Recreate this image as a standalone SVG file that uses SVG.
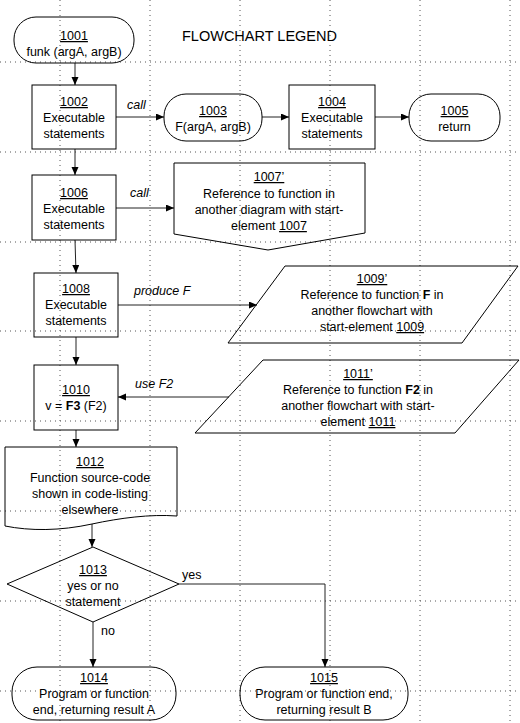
<svg xmlns="http://www.w3.org/2000/svg" width="520" height="723" viewBox="0 0 520 723">
<defs>
<style>
.s{fill:none;stroke:#000;stroke-width:1}
.t{font-family:"Liberation Sans",Arial,sans-serif;font-size:12.5px;fill:#000;text-anchor:middle}
.l{font-family:"Liberation Sans",Arial,sans-serif;font-size:12.5px;fill:#000}
.i{font-style:italic}
.u{text-decoration:underline}
.b{font-weight:bold}
.c{fill:none;stroke:#222;stroke-width:1}
.a{marker-end:url(#ah)}
.g{stroke:#555;stroke-width:1;stroke-dasharray:1 4;fill:none}
</style>
<marker id="ah" markerUnits="userSpaceOnUse" markerWidth="9" markerHeight="8" refX="8" refY="3.5" orient="auto">
<path d="M0,0 L8,3.5 L0,7 z" fill="#000"/>
</marker>
</defs>
<rect width="520" height="723" fill="#fff"/>
<g id="grid">
<path class="g" d="M60,0V723M150,0V723M240,0V723M330,0V723M420,0V723M510,0V723"/>
<path class="g" d="M0,62H520M0,152H520M0,242H520M0,331H520M0,421H520M0,511H520M0,601H520M0,691H520"/>
</g>
<text class="l" x="182" y="41" style="font-size:14.5px">FLOWCHART LEGEND</text>
<g id="connectors">
<path class="c a" d="M75,63V85"/>
<path class="c a" d="M116,117H164"/>
<path class="c a" d="M262,117H289"/>
<path class="c a" d="M375,117H409"/>
<path class="c a" d="M75,149V175"/>
<path class="c a" d="M116,208H174"/>
<path class="c a" d="M75,240L76,273"/>
<path class="c a" d="M118,305H257"/>
<path class="c a" d="M76,337V365"/>
<path class="c a" d="M229,397H118"/>
<path class="c a" d="M76,430V447"/>
<path class="c a" d="M92,524V547"/>
<path class="c a" d="M179,584H325V667"/>
<path class="c a" d="M93,622V667"/>
<text class="l i" x="127" y="109">call</text>
<text class="l i" x="130" y="197">call</text>
<text class="l i" x="134" y="295">produce F</text>
<text class="l i" x="135" y="388">use F2</text>
<text class="l" x="182" y="579">yes</text>
<text class="l" x="101" y="635">no</text>
</g>
<g id="n1001">
<rect class="s" x="14" y="17" width="120" height="46" rx="22" ry="22"/>
<text class="t" x="74" y="40"><tspan class="u">1001</tspan></text>
<text class="t" x="74" y="56">funk (argA, argB)</text>
</g>
<g id="n1002">
<rect class="s" x="32" y="85" width="84" height="64"/>
<text class="t" x="74" y="106"><tspan class="u">1002</tspan></text>
<text class="t" x="74" y="122">Executable</text>
<text class="t" x="74" y="138">statements</text>
</g>
<g id="n1003">
<rect class="s" x="164" y="94" width="98" height="47" rx="22" ry="22"/>
<text class="t" x="213" y="115"><tspan class="u">1003</tspan></text>
<text class="t" x="213" y="131">F(argA, argB)</text>
</g>
<g id="n1004">
<rect class="s" x="289" y="85" width="86" height="64"/>
<text class="t" x="332" y="106"><tspan class="u">1004</tspan></text>
<text class="t" x="332" y="122">Executable</text>
<text class="t" x="332" y="138">statements</text>
</g>
<g id="n1005">
<rect class="s" x="409" y="94" width="91" height="47" rx="22" ry="22"/>
<text class="t" x="454.5" y="115"><tspan class="u">1005</tspan></text>
<text class="t" x="454.5" y="131">return</text>
</g>
<g id="n1006">
<rect class="s" x="32" y="175" width="84" height="65"/>
<text class="t" x="74" y="197"><tspan class="u">1006</tspan></text>
<text class="t" x="74" y="213">Executable</text>
<text class="t" x="74" y="229">statements</text>
</g>
<g id="n1007">
<path class="s" d="M174,163H365V233L268,250L174,234Z"/>
<text class="t" x="269" y="181"><tspan class="u">1007’</tspan></text>
<text class="t" x="269" y="198">Reference to function in</text>
<text class="t" x="269" y="214">another diagram with start-</text>
<text class="t" x="269" y="230">element <tspan class="u">1007</tspan></text>
</g>
<g id="n1008">
<rect class="s" x="34" y="273" width="84" height="64"/>
<text class="t" x="76" y="293"><tspan class="u">1008</tspan></text>
<text class="t" x="76" y="309">Executable</text>
<text class="t" x="76" y="325">statements</text>
</g>
<g id="n1009">
<path class="s" d="M285,266H518L462,343H228Z"/>
<text class="t" x="372" y="283"><tspan class="u">1009’</tspan></text>
<text class="t" x="372" y="299">Reference to function <tspan class="b">F</tspan> in</text>
<text class="t" x="372" y="315">another flowchart with</text>
<text class="t" x="372" y="331">start-element <tspan class="u">1009</tspan></text>
</g>
<g id="n1010">
<rect class="s" x="34" y="365" width="84" height="65"/>
<text class="t" x="76" y="394"><tspan class="u">1010</tspan></text>
<text class="t" x="76" y="410">v = <tspan class="b">F3</tspan> (F2)</text>
</g>
<g id="n1011">
<path class="s" d="M263,360H519L455,433H195Z"/>
<text class="t" x="358" y="378"><tspan class="u">1011’</tspan></text>
<text class="t" x="358" y="394">Reference to function <tspan class="b">F2</tspan> in</text>
<text class="t" x="358" y="410">another flowchart with start-</text>
<text class="t" x="358" y="426">element <tspan class="u">1011</tspan></text>
</g>
<g id="n1012">
<path class="s" d="M5,447H177V516C150,514 120,518 92,524C60,531 30,531 5,526Z"/>
<text class="t" x="90" y="466"><tspan class="u">1012</tspan></text>
<text class="t" x="90" y="482">Function source-code</text>
<text class="t" x="90" y="498">shown in code-listing</text>
<text class="t" x="90" y="514">elsewhere</text>
</g>
<g id="n1013">
<path class="s" d="M93,547L179,584L93,622L7,584Z"/>
<text class="t" x="93" y="574"><tspan class="u">1013</tspan></text>
<text class="t" x="93" y="590">yes or no</text>
<text class="t" x="93" y="606">statement</text>
</g>
<g id="n1014">
<rect class="s" x="12" y="667" width="164" height="53" rx="25" ry="25"/>
<text class="t" x="94" y="682"><tspan class="u">1014</tspan></text>
<text class="t" x="94" y="698">Program or function</text>
<text class="t" x="94" y="714">end, returning result A</text>
</g>
<g id="n1015">
<rect class="s" x="240" y="667" width="168" height="53" rx="25" ry="25"/>
<text class="t" x="324" y="682"><tspan class="u">1015</tspan></text>
<text class="t" x="324" y="698">Program or function end,</text>
<text class="t" x="324" y="714">returning result B</text>
</g>
</svg>
